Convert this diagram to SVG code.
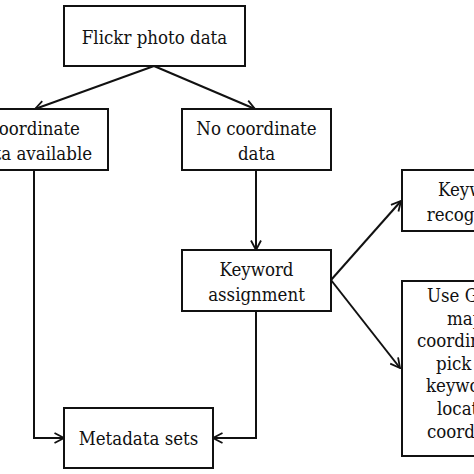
<svg xmlns="http://www.w3.org/2000/svg" width="474" height="474" viewBox="0 0 474 474">
<style>
.box{fill:#fff;stroke:#111;stroke-width:2}
.t{text-anchor:middle}
.ts{text-anchor:start}
.c{fill:none;stroke:#111;stroke-width:2}
</style>
<defs>
<marker id="arr" viewBox="0 0 12 12" refX="11" refY="6" markerWidth="12" markerHeight="12" markerUnits="userSpaceOnUse" orient="auto">
<path d="M1.5,1 L11,6 L1.5,11" fill="none" stroke="#111" stroke-width="1.8"/>
</marker>
</defs>
<rect width="474" height="474" fill="#fff"/>
<g id="connectors">
<line class="c" x1="154" y1="66" x2="35" y2="109" marker-end="url(#arr)"/>
<line class="c" x1="154" y1="66" x2="255" y2="109" marker-end="url(#arr)"/>
<polyline class="c" points="34,170 34,438 64,438" marker-end="url(#arr)"/>
<line class="c" x1="256" y1="170" x2="256" y2="250" marker-end="url(#arr)"/>
<polyline class="c" points="256,311 256,438 213,438" marker-end="url(#arr)"/>
<line class="c" x1="331" y1="280" x2="401" y2="201" marker-end="url(#arr)"/>
<line class="c" x1="331" y1="280" x2="400" y2="368" marker-end="url(#arr)"/>
</g>
<g font-family="DejaVu Serif Condensed, DejaVu Serif, serif" font-stretch="condensed" font-size="18.5" fill="#111">
<g id="flickr">
<rect class="box" x="64" y="6" width="181" height="60"/>
<text class="t" x="154.5" y="44">Flickr photo data</text>
</g>
<g id="coord-available">
<rect class="box" x="-42" y="109" width="150" height="61"/>
<text class="t" x="33" y="135">Coordinate</text>
<text class="t" x="33" y="160">data available</text>
</g>
<g id="no-coord">
<rect class="box" x="182" y="109" width="149" height="61"/>
<text class="t" x="256.5" y="135">No coordinate</text>
<text class="t" x="256.5" y="160">data</text>
</g>
<g id="keyword-assignment">
<rect class="box" x="182" y="250" width="149" height="61"/>
<text class="t" x="256.5" y="276">Keyword</text>
<text class="t" x="256.5" y="301">assignment</text>
</g>
<g id="metadata">
<rect class="box" x="64" y="408" width="149" height="60"/>
<text class="t" x="138.5" y="445">Metadata sets</text>
</g>
<g id="keyword-recognition">
<rect class="box" x="402" y="170" width="148" height="61"/>
<text class="t" x="475" y="196">Keyword</text>
<text class="t" x="475" y="221">recognition</text>
</g>
<g id="use-google">
<rect class="box" x="402" y="281" width="148" height="175"/>
<text class="ts" x="427" y="302">Use Google</text>
<text class="ts" x="447" y="325">map's</text>
<text class="ts" x="417" y="347">coordinates to</text>
<text class="ts" x="436" y="370">pick up</text>
<text class="ts" x="426" y="392">keywords</text>
<text class="ts" x="437" y="415">location</text>
<text class="ts" x="427" y="438">coordinates</text>
</g>
</g>
</svg>
